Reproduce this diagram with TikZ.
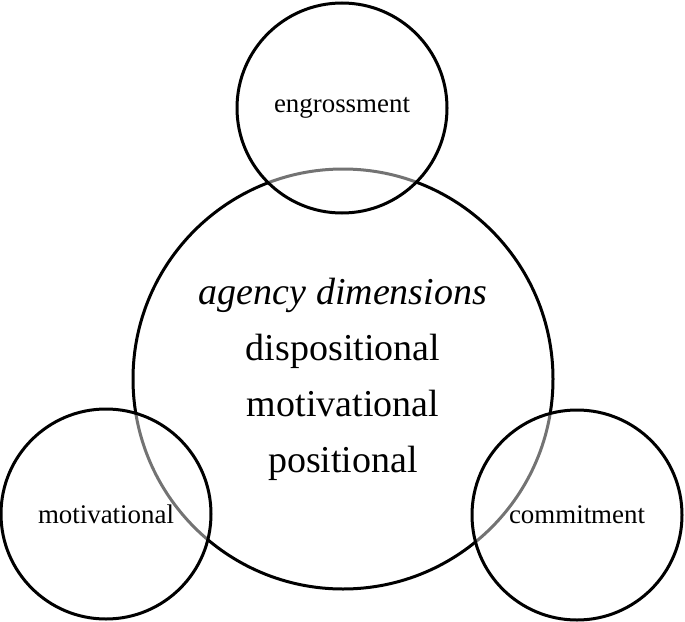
\documentclass[tikz,border=0pt]{standalone}
\usepackage{fontspec}
\setmainfont{Liberation Serif}
\usepackage{tikz}
\usetikzlibrary{shapes}
\newcommand{\smallunit}{105pt}
\newcommand{\bigunit}{210pt}
\tikzset{
    node style big/.style={draw,circle,line width=1.5pt,minimum size=\bigunit,
                           align=center,font=\fontsize{19}{28}\selectfont},
    node style small/.style={draw,circle,line width=1.5pt,minimum size=\smallunit,
                             fill=white,fill opacity=0.45,text opacity=1,
                             font=\fontsize{13.45}{16}\selectfont},
}
\begin{document}
\begin{tikzpicture}[x=0.5pt,y=-0.5pt]
\useasboundingbox (0,0) rectangle (685,621);
\node [node style big] (agency) at (343,379)
      {\textit{agency dimensions}\\dispositional\\motivational\\positional};
% 
% %the three outer circles
\node [node style small] (engross) at (342,108) {engrossment};
\node [node style small] (motiv) at (106,514) {motivational};
\node [node style small] (commit) at (577,515) {commitment};
\end{tikzpicture}
\end{document}
